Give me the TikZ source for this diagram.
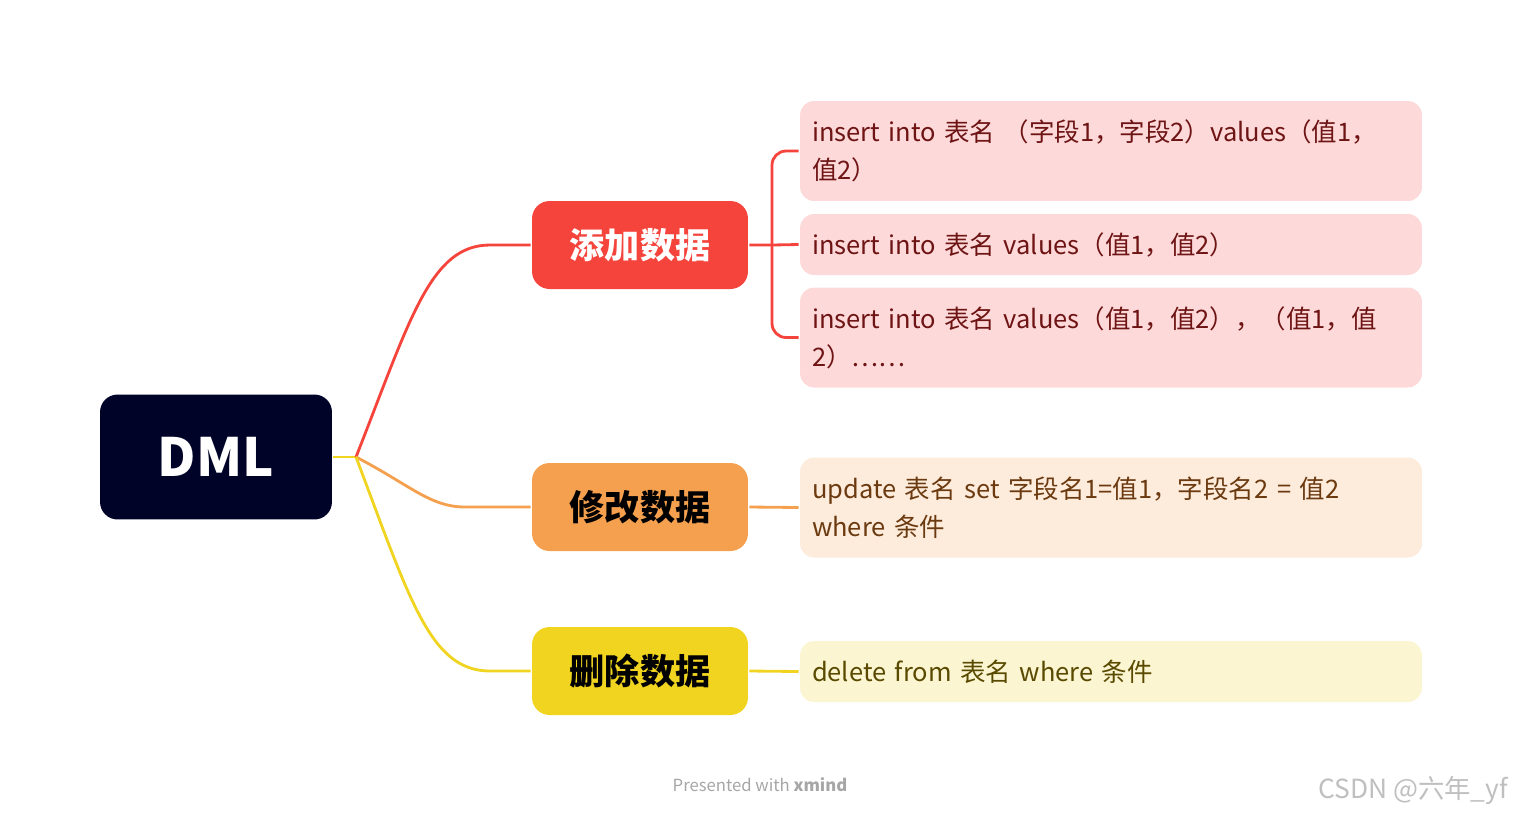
\documentclass[tikz,border=0pt]{standalone}
\usepackage{fontspec}
\setmainfont{Noto Sans CJK SC}
\definecolor{navy}{HTML}{000328}
\definecolor{redm}{HTML}{F5443C}
\definecolor{orgm}{HTML}{F5A04E}
\definecolor{yelm}{HTML}{F0D420}
\definecolor{redl}{HTML}{FDD9D9}
\definecolor{orgl}{HTML}{FDEBDB}
\definecolor{yell}{HTML}{FBF5D2}
\definecolor{redt}{HTML}{6E1414}
\definecolor{orgt}{HTML}{6B3A10}
\definecolor{yelt}{HTML}{5A4A00}
\begin{document}
\hyphenpenalty=10000
\begin{tikzpicture}[x=0.02cm, y=-0.02cm, line width=1.6pt,
  main/.style = {rounded corners=10pt, minimum width=4.32cm, minimum height=1.76cm, font=\fontsize{20}{24}\selectfont\bfseries},
  leaf/.style = {rounded corners=8pt, text width=11.96cm, align=left, font=\fontsize{14.5}{21.5}\selectfont, inner xsep=0.24cm, inner ysep=0.2cm}]
\useasboundingbox (0,0) rectangle (1522,816);
\node[fill=navy, rounded corners=10pt, minimum width=4.64cm, minimum height=2.5cm, text=white, font=\fontsize{30}{34}\selectfont\bfseries] (root) at (216,457) {DML};
\node[main, fill=redm, text=white] (add) at (640,245) {添加数据};
\node[main, fill=orgm] (upd) at (640,507) {修改数据};
\node[main, fill=yelm] (del) at (640,671) {删除数据};
\node[leaf, fill=redl, text=redt, minimum height=2cm] (a1) at (1111,151) {insert into 表名 （字段1，字段2）values（值1，\\值2）};
\node[leaf, fill=redl, text=redt, minimum height=1.22cm] (a2) at (1111,244.5) {insert into 表名 values（值1，值2）};
\node[leaf, fill=redl, text=redt, minimum height=2cm] (a3) at (1111,337.5) {insert into 表名 values（值1，值2），（值1，值\\2）……};
\node[leaf, fill=orgl, text=orgt, minimum height=2cm] (u1) at (1111,507.5) {update 表名 set 字段名1=值1，字段名2 = 值2\\where 条件};
\node[leaf, fill=yell, text=yelt, minimum height=1.22cm] (d1) at (1111,671.5) {delete from 表名 where 条件};
\coordinate (hub) at (356,457);
\coordinate (rbar) at (772,245);
% root to branches
\draw[yelm] (root.east) -- (hub);
\draw[redm] (hub) .. controls (410,320) and (430,245) .. (490,245) -- (add.west);
\draw[orgm] (hub) .. controls (410,485) and (430,507) .. (465,507) -- (upd.west);
\draw[yelm] (hub) .. controls (410,600) and (430,671) .. (490,671) -- (del.west);
% branches to leaves
\draw[redm] (add.east) -- (rbar) -- (a2.west);
\draw[redm, rounded corners=8pt] (a1.west) -- (rbar |- a1.west) -- (rbar |- a3.west) -- (a3.west);
\draw[orgm] (upd.east) -- (u1.west);
\draw[yelm] (del.east) -- (d1.west);
\node[text=black!35, font=\fontsize{9.5}{11}\selectfont] (mark) at (760,785) {Presented with \textbf{xmind}};
\node[text=black!25, font=\fontsize{15}{17}\selectfont] (csdn) at (1413,790) {CSDN @六年\_yf};
\end{tikzpicture}
\end{document}
